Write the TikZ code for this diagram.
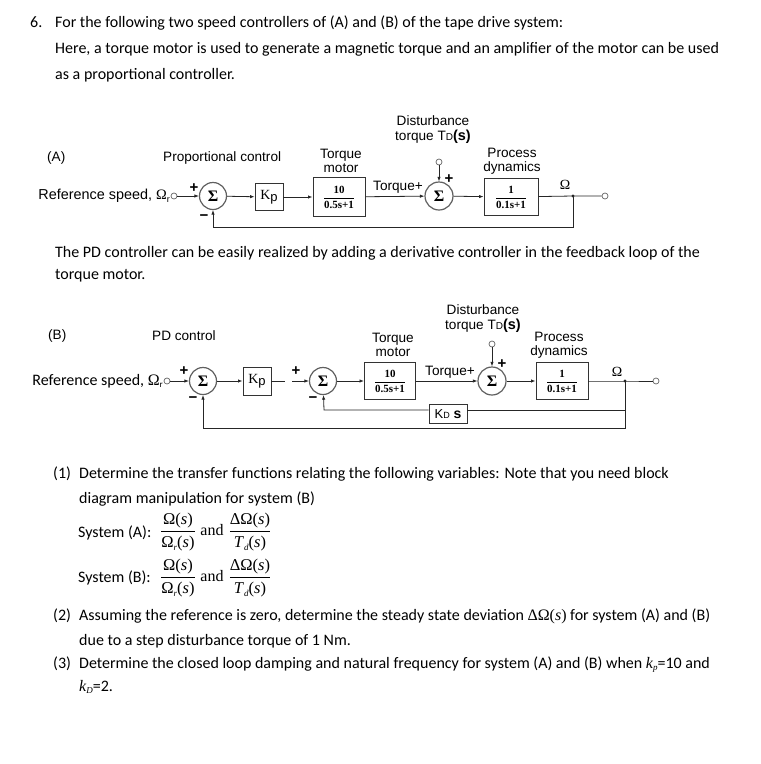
\documentclass[tikz,border=0pt]{standalone}
\usepackage{fontspec}
\setmainfont{Carlito}
\newfontfamily\arial{Liberation Sans}
\newfontfamily\tms{Liberation Serif}
\usetikzlibrary{arrows.meta}
\newcommand\mysub[1]{\raisebox{-2.5pt}{\fontsize{9}{9}\selectfont #1}}
\newcommand\kpbox{{\tms\fontsize{14}{14}\selectfont K}\raisebox{-2pt}{\arial\fontsize{13}{13}\selectfont p}}
\newcommand\tfbox[2]{{\tms\bfseries\fontsize{11}{11}\selectfont$\displaystyle\frac{\hbox{#1}}{\hbox{#2}}$}}
\newcommand\tdlabel{Disturbance\\[3pt]torque T{\fontsize{10}{10}\selectfont D}{\bfseries\fontsize{14.5}{14}\selectfont(s)}}
\newcommand\fracA{{\tms\fontsize{16.5}{16.5}\selectfont$\displaystyle\frac{\hbox{Ω(\textit{s})}}{\hbox{Ω\mysub{\itshape r}(\textit{s})}}$}}
\newcommand\fracB{{\tms\fontsize{16.5}{16.5}\selectfont$\displaystyle\frac{\hbox{ΔΩ(\textit{s})}}{\hbox{\textit{T}\mysub{\itshape d}(\textit{s})}}$}}
\tikzset{
 body/.style={anchor=base west, inner sep=0pt, font=\fontsize{16}{19}\selectfont},
 lbl/.style={inner sep=0pt, font=\arial\fontsize{13.6}{12}\selectfont, align=center},
 sumc/.style={circle, draw=gray!75!black, line width=1.2pt, minimum size=27pt, inner sep=0pt, font=\tms\bfseries\fontsize{16}{16}\selectfont},
 blk/.style={draw=black!80, line width=0.9pt, inner sep=0pt},
 term/.style={circle, draw=gray!80!black, line width=0.7pt, minimum size=6pt, inner sep=0pt},
 sig/.style={line width=0.8pt, draw=black!85},
 arr/.style={sig, -{Latex[length=4.5pt,width=3.4pt]}},
 sgn/.style={inner sep=0pt, font=\arial\bfseries\fontsize{15}{15}\selectfont},
 omg/.style={inner sep=0pt, font=\tms\fontsize{14}{14}\selectfont},
}
\begin{document}
\begin{tikzpicture}[x=1pt,y=-1pt]
\useasboundingbox[fill=white] (0,0) rectangle (761,764);
% ---------- header text
\node[body] (n6) at (30,27) {6.};
\node[body] (t1) at (55,27) {For the following two speed controllers of (A) and (B) of the tape drive system:};
\node[body] (t2) at (55,53) {Here, a torque motor is used to generate a magnetic torque and an amplifier of the motor can be used};
\node[body] (t3) at (55,79) {as a proportional controller.};
% ---------- diagram A
\node[lbl, anchor=west] (labA) at (47,158) {(A)};
\node[lbl, anchor=west] (pcA) at (163,158) {Proportional control};
\node[lbl] (tmlA) at (341,161) {Torque\\[1.5pt]motor};
\node[lbl] (dlA) at (433,130) {\tdlabel};
\node[lbl] (pdlA) at (512,161) {Process\\[2pt]dynamics};
\node[lbl, anchor=east, font=\arial\fontsize{14.4}{12}\selectfont] (refA) at (170,196) {Reference speed, {\tms Ω}\mysub{r}};
\node[term] (iA) at (174,196) {};
\node[sumc] (sA1) at (213,196) {Σ};
\node[blk, minimum width=28pt, minimum height=27pt] (kpA) at (269,197) {\kpbox};
\node[blk, minimum width=52pt, minimum height=39pt] (tmA) at (339,197) {\tfbox{10}{0.5s+1}};
\node[sumc, minimum size=28pt] (sA2) at (439,196) {Σ};
\node[blk, minimum width=54pt, minimum height=37pt] (pA) at (511,197) {\tfbox{1}{0.1s+1}};
\coordinate (jA) at (573,196);
\node[term] (oA) at (605,196) {};
\node[term] (dA) at (439,162) {};
\coordinate (fA) at (573,227);
\node[sgn] (pA1) at (194,188) {+};
\node[sgn] (mA1) at (204,218) {−};
\node[sgn] (pA2) at (449,179) {+};
\node[lbl] (tqA) at (398,187) {Torque+};
\node[omg] (omA) at (565,185) {Ω};
\draw[arr] (iA) -- (sA1);
\draw[arr] (sA1) -- (kpA);
\draw[arr] (kpA) -- (tmA);
\draw[arr] (tmA) -- (sA2);
\draw[arr] (sA2) -- (pA);
\draw[arr] (dA) -- (sA2);
\draw[sig] (pA) -- (jA) -- (oA);
\draw[arr] (jA) -- (fA) -| (sA1);
\fill[black!85] (jA) circle (1.6pt);
% ---------- middle text
\node[body] (t4) at (55,257) {The PD controller can be easily realized by adding a derivative controller in the feedback loop of the};
\node[body] (t5) at (55,279) {torque motor.};
% ---------- diagram B
\node[lbl, anchor=west] (labB) at (48,336) {(B)};
\node[lbl, anchor=west] (pcB) at (152,336) {PD control};
\node[lbl] (tmlB) at (393,345) {Torque\\[1.5pt]motor};
\node[lbl] (dlB) at (483,319) {\tdlabel};
\node[lbl] (pdlB) at (559,345) {Process\\[2pt]dynamics};
\node[anchor=east, inner sep=0pt, font=\fontsize{16}{19}\selectfont] (refB) at (163,381) {Reference speed, {\tms Ω}\mysub{r}};
\node[term] (iB) at (167,381) {};
\node[sumc] (sB1) at (203,381) {Σ};
\node[blk, minimum width=28pt, minimum height=28pt] (kpB) at (257,381) {\kpbox};
\coordinate (gB1) at (285,381);
\coordinate (gB2) at (292,381);
\node[sumc] (sB2) at (323,381) {Σ};
\node[blk, minimum width=51pt, minimum height=37pt] (tmB) at (390,381) {\tfbox{10}{0.5s+1}};
\node[sumc, minimum size=28pt] (sB3) at (492,381) {Σ};
\node[blk, minimum width=52pt, minimum height=37pt] (pB) at (562,381) {\tfbox{1}{0.1s+1}};
\coordinate (jB) at (625,381);
\node[term] (oB) at (656,381) {};
\node[term] (dB) at (492,344) {};
\node[blk, minimum width=38pt, minimum height=19pt, anchor=north] (kdB) at (448,404) {\arial\fontsize{13}{13}\selectfont K{\fontsize{9}{9}\selectfont D} {\bfseries\fontsize{14}{14}\selectfont s}};
\coordinate (kB1) at (625,410);
\coordinate (kB2) at (324,410);
\coordinate (fB) at (625,428);
\node[sgn] (pB1) at (184,371) {+};
\node[sgn] (mB1) at (193,400) {−};
\node[sgn] (pB2) at (296,371) {+};
\node[sgn] (mB2) at (313,400) {−};
\node[sgn] (pB3) at (502,364) {+};
\node[lbl] (tqB) at (450,372) {Torque+};
\node[omg] (omB) at (617,372) {Ω};
\draw[arr] (iB) -- (sB1);
\draw[arr] (sB1) -- (kpB);
\draw[sig] (kpB) -- (gB1);
\draw[arr] (gB2) -- (sB2);
\draw[arr] (sB2) -- (tmB);
\draw[arr] (tmB) -- (sB3);
\draw[arr] (sB3) -- (pB);
\draw[arr] (dB) -- (sB3);
\draw[sig] (pB) -- (jB) -- (oB);
\draw[arr] (jB) -- (fB) -| (sB1);
\draw[sig] (kB1) -- (kB1 -| kdB.east);
\draw[arr] (kB1 -| kdB.west) -- (kB2) -- (sB2);
\fill[black!85] (jB) circle (1.6pt);
% ---------- questions
\node[body] (q1n) at (53,478) {(1)};
\node[body] (q1a) at (79,478) {Determine the transfer functions relating the following variables: Note that you need block};
\node[body] (q1b) at (79,503) {diagram manipulation for system (B)};
\node[body] (sysA) at (78,537) {System (A):};
\node (fA1) at (178,532) {\fracA};
\node[inner sep=0pt, font=\tms\fontsize{16}{16}\selectfont] (andA) at (212,530) {and};
\node (fA2) at (250,532) {\fracB};
\node[body] (sysB) at (78,582) {System (B):};
\node (fB1) at (178,578) {\fracA};
\node[inner sep=0pt, font=\tms\fontsize{16}{16}\selectfont] (andB) at (212,576) {and};
\node (fB2) at (250,578) {\fracB};
\node[body] (q2n) at (53,620) {(2)};
\node[body] (q2a) at (79,620) {Assuming the reference is zero, determine the steady state deviation {\tms\fontsize{16}{16}\selectfont ΔΩ(\textit{s})} for system (A) and (B)};
\node[body] (q2b) at (79,645) {due to a step disturbance torque of 1 Nm.};
\node[body] (q3n) at (53,668) {(3)};
\node[body] (q3a) at (79,668) {Determine the closed loop damping and natural frequency for system (A) and (B) when {\tms\itshape k\mysub{p}}=10 and};
\node[body] (q3b) at (79,691) {{\tms\itshape k\mysub{D}}=2.};
\end{tikzpicture}
\end{document}
